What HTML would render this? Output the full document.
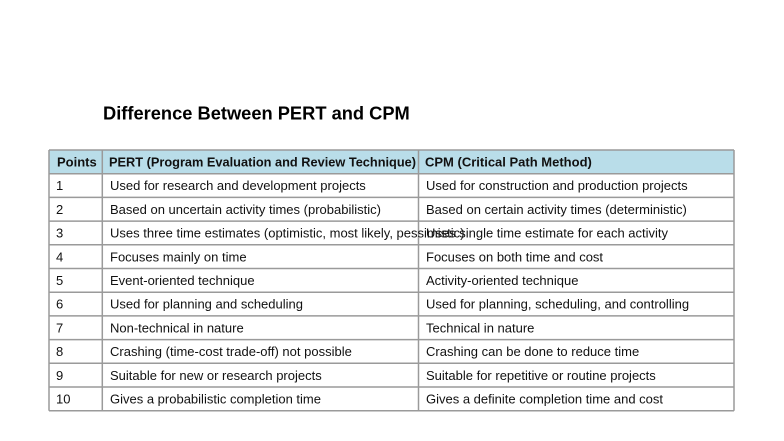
<!DOCTYPE html>
<html>
<head>
<meta charset="utf-8">
<style>
  html, body { margin:0; padding:0; background:#ffffff; }
  svg { display:block; }
  text { font-family: "Liberation Sans", Arial, sans-serif; fill:#111; }
</style>
</head>
<body>
<svg width="784" height="441" viewBox="0 0 784 441" xmlns="http://www.w3.org/2000/svg">
  <rect x="0" y="0" width="784" height="441" fill="#ffffff"/>
  <!-- Title -->
  <text x="103" y="119.5" font-size="18.3" font-weight="bold" style="fill:#000">Difference Between PERT and CPM</text>

  <!-- Header background -->
  <rect x="49" y="150" width="685" height="23.7" fill="#b9dde9"/>

  <!-- Horizontal lines -->
  <g stroke="#9a9a9a" stroke-width="1.5">
    <line x1="49" y1="150" x2="734" y2="150"/>
    <line x1="49" y1="173.7" x2="734" y2="173.7"/>
    <line x1="49" y1="197.4" x2="734" y2="197.4"/>
    <line x1="49" y1="221.1" x2="734" y2="221.1"/>
    <line x1="49" y1="244.8" x2="734" y2="244.8"/>
    <line x1="49" y1="268.5" x2="734" y2="268.5"/>
    <line x1="49" y1="292.2" x2="734" y2="292.2"/>
    <line x1="49" y1="315.9" x2="734" y2="315.9"/>
    <line x1="49" y1="339.6" x2="734" y2="339.6"/>
    <line x1="49" y1="363.3" x2="734" y2="363.3"/>
    <line x1="49" y1="387.0" x2="734" y2="387.0"/>
    <line x1="49" y1="410.7" x2="734" y2="410.7"/>
    <!-- Vertical lines -->
    <line x1="49" y1="150" x2="49" y2="410.7"/>
    <line x1="102.3" y1="150" x2="102.3" y2="410.7"/>
    <line x1="418.5" y1="150" x2="418.5" y2="410.7"/>
    <line x1="734" y1="150" x2="734" y2="410.7"/>
  </g>

  <!-- Header text -->
  <g font-size="13" font-weight="bold">
    <text x="57" y="166.5">Points</text>
    <text x="109" y="166.5" textLength="307" lengthAdjust="spacingAndGlyphs">PERT (Program Evaluation and Review Technique)</text>
    <text x="425" y="166.5">CPM (Critical Path Method)</text>
  </g>

  <!-- Body text -->
  <g font-size="13">
    <text x="56" y="190.2">1</text>
    <text x="110" y="190.2">Used for research and development projects</text>
    <text x="426" y="190.2">Used for construction and production projects</text>

    <text x="56" y="213.9">2</text>
    <text x="110" y="213.9">Based on uncertain activity times (probabilistic)</text>
    <text x="426" y="213.9">Based on certain activity times (deterministic)</text>

    <text x="56" y="237.6">3</text>
    <text x="110" y="237.6">Uses three time estimates (optimistic, most likely, pessimistic)</text>
    <text x="426" y="237.6">Uses single time estimate for each activity</text>

    <text x="56" y="261.3">4</text>
    <text x="110" y="261.3">Focuses mainly on time</text>
    <text x="426" y="261.3">Focuses on both time and cost</text>

    <text x="56" y="285.0">5</text>
    <text x="110" y="285.0">Event-oriented technique</text>
    <text x="426" y="285.0">Activity-oriented technique</text>

    <text x="56" y="308.7">6</text>
    <text x="110" y="308.7">Used for planning and scheduling</text>
    <text x="426" y="308.7">Used for planning, scheduling, and controlling</text>

    <text x="56" y="332.4">7</text>
    <text x="110" y="332.4">Non-technical in nature</text>
    <text x="426" y="332.4">Technical in nature</text>

    <text x="56" y="356.1">8</text>
    <text x="110" y="356.1">Crashing (time-cost trade-off) not possible</text>
    <text x="426" y="356.1">Crashing can be done to reduce time</text>

    <text x="56" y="379.8">9</text>
    <text x="110" y="379.8">Suitable for new or research projects</text>
    <text x="426" y="379.8">Suitable for repetitive or routine projects</text>

    <text x="56" y="403.5">10</text>
    <text x="110" y="403.5">Gives a probabilistic completion time</text>
    <text x="426" y="403.5">Gives a definite completion time and cost</text>
  </g>
</svg>
</body>
</html>
